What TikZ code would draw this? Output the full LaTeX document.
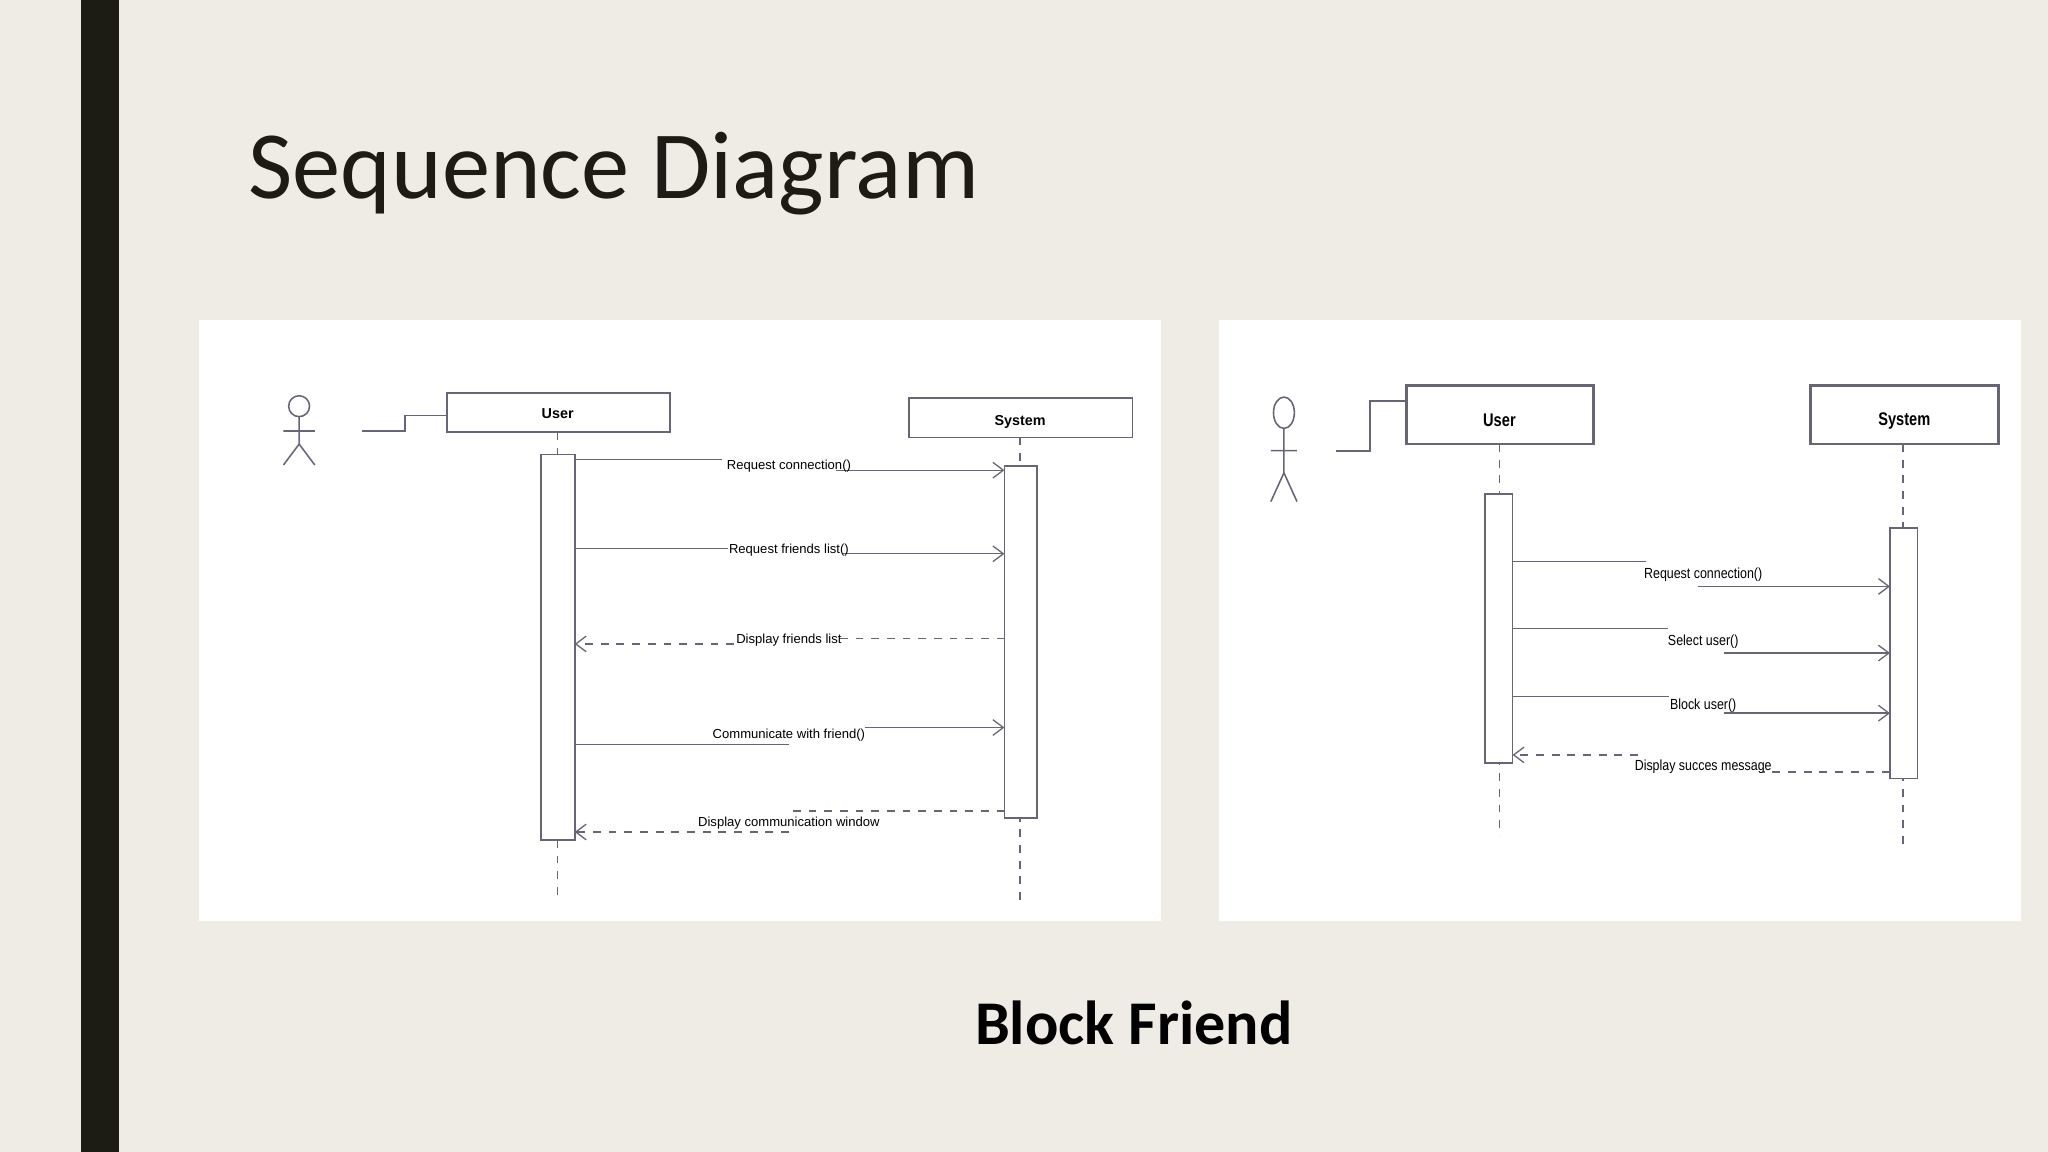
\documentclass[tikz,border=0pt]{standalone}
\usepackage{fontspec}
\setmainfont{Carlito}
\newfontfamily\lab{Liberation Sans}
\usetikzlibrary{arrows.meta}
\definecolor{bg}{HTML}{EFECE6}
\definecolor{bar}{HTML}{1C1C14}
\definecolor{ln}{HTML}{6A6478}
\tikzset{
 msg/.style={draw=ln,line width=0.5pt},
 arr/.style={msg,-{Straight Barb[length=4pt,width=6pt]}},
 ret/.style={msg,dashed},
 lbl/.style={font=\lab\fontsize{5}{6}\selectfont,inner sep=0pt},
 rlbl/.style={font=\lab\fontsize{5.6}{6}\selectfont,inner sep=0pt,xscale=0.85},
 life/.style={draw=ln,dashed,line width=0.5pt},
 obj/.style={draw=ln,line width=0.7pt,fill=white},
}
\begin{document}
\begin{tikzpicture}[x=0.5pt,y=-0.5pt]
\useasboundingbox (0,0) rectangle (1568,882);
\fill[bg] (0,0) rectangle (1568,882);
\fill[bar] (62,0) rectangle (91,882);
\node[anchor=base west,inner sep=0pt,font=\fontsize{36.9}{40}\selectfont,text=bar] (title) at (190,152) {Sequence Diagram};
\fill[white] (152,245) rectangle (889,705);
\fill[white] (933,245) rectangle (1547,705);
\node[font=\bfseries\fontsize{23.8}{28}\selectfont,inner sep=0pt] (bf) at (868,783) {Block Friend};
% ---- left diagram
\draw[ln,line width=0.6pt] (229,311) circle (8);
\draw[ln,line width=0.6pt] (229,319)--(229,340) (217,330)--(241,330) (217,356)--(229,340)--(241,356);
\draw[obj] (342,301) rectangle (513,331);
\node[font=\lab\bfseries\fontsize{5.5}{6}\selectfont] (u1) at (427,317) {User};
\draw[obj] (696,305) rectangle (867,335);
\node[font=\lab\bfseries\fontsize{5.5}{6}\selectfont] (s1) at (781,323) {System};
\draw[msg] (277,330)--(310,330)--(310,318)--(342,318);
\draw[life] (427,331)--(427,686);
\draw[life] (781,335)--(781,690);
\draw[obj] (414,348) rectangle (440,643);
\draw[obj] (769,357) rectangle (794,626);
\draw[msg] (440,352)--(553,352); \draw[arr] (640,360)--(769,360);
\node[lbl] at (604,357) {Request connection()};
\draw[msg] (440,420)--(557,420); \draw[arr] (645,424)--(769,424);
\node[lbl] at (604,421) {Request friends list()};
\draw[ret] (769,489)--(640,489); \draw[ret,-{Straight Barb[length=4pt,width=6pt]}] (562,493)--(440,493);
\node[lbl] at (604,490) {Display friends list};
\draw[msg] (440,570)--(604,570); \draw[arr] (662,557)--(769,557);
\node[lbl] at (604,563) {Communicate with friend()};
\draw[ret] (769,621)--(604,621); \draw[ret,-{Straight Barb[length=4pt,width=6pt]}] (604,637)--(440,637);
\node[lbl] at (604,630) {Display communication window};
% ---- right diagram
\draw[ln,line width=0.6pt] (983,316) ellipse (8 and 12);
\draw[ln,line width=0.6pt] (983,328)--(983,362) (973,345)--(993,345) (973,384)--(983,362)--(993,384);
\draw[msg,line width=0.8pt] (1023,345)--(1049,345)--(1049,307)--(1077,307);
\draw[obj,line width=1pt] (1077,295) rectangle (1220,340);
\node[font=\lab\bfseries\fontsize{7}{8}\selectfont,xscale=0.8] (u2) at (1148,322) {User};
\draw[obj,line width=1pt] (1386,295) rectangle (1530,340);
\node[font=\lab\bfseries\fontsize{7}{8}\selectfont,xscale=0.8] (s2) at (1458,322) {System};
\draw[life] (1148,340)--(1148,640);
\draw[life] (1457,340)--(1457,650);
\draw[obj] (1137,378) rectangle (1158,584);
\draw[obj] (1447,404) rectangle (1468,596);
\draw[msg] (1158,430)--(1260,430); \draw[arr] (1300,449)--(1447,449);
\node[rlbl] at (1304,440) {Request connection()};
\draw[msg] (1158,481)--(1277,481); \draw[arr] (1320,500)--(1447,500);
\node[rlbl] at (1304,491) {Select user()};
\draw[msg] (1158,533)--(1278,533); \draw[arr] (1320,546)--(1447,546);
\node[rlbl] at (1304,540) {Block user()};
\draw[ret] (1447,591)--(1350,591); \draw[ret,-{Straight Barb[length=4pt,width=6pt]}] (1254,578)--(1158,578);
\node[rlbl] at (1304,587) {Display succes message};
\end{tikzpicture}
\end{document}
